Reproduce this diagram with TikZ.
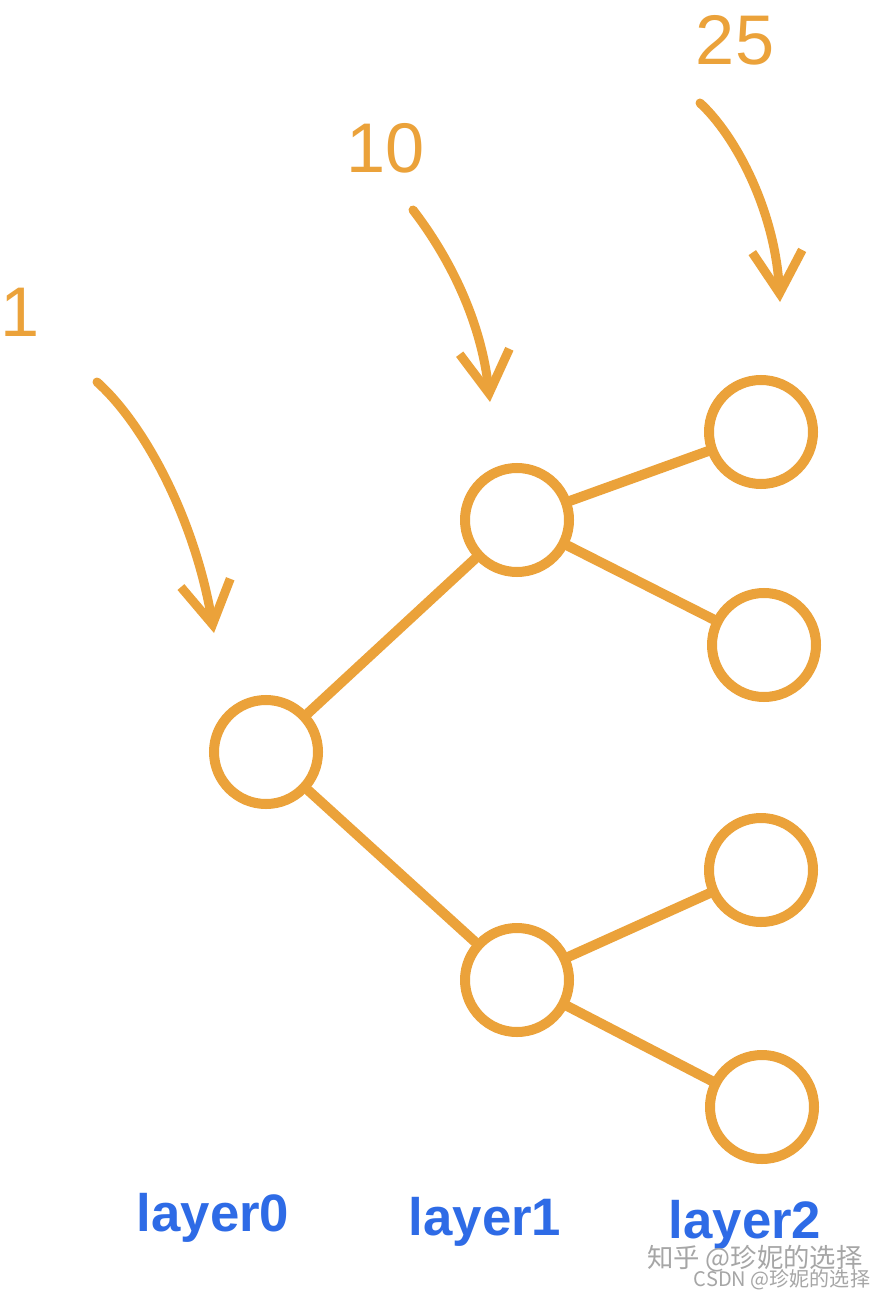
\documentclass[tikz,border=0pt]{standalone}
\usepackage{fontspec}
\setmainfont{Liberation Sans}
\newfontfamily\cjk{Noto Sans CJK SC}
\usepackage{xcolor}
\usepackage{tikz}
\usetikzlibrary{positioning}
\usetikzlibrary{arrows.meta}
\definecolor{treeorange}{HTML}{EBA23A}
\definecolor{layerblue}{HTML}{2E6BE6}

\begin{document}
\begin{tikzpicture}[>={Straight Barb[length=4.2mm,width=5mm]},line cap=round,on grid,
  leaf/.style={draw=treeorange,circle,line width=1mm,minimum size=1.04cm,inner sep=0pt},
  branch/.style={draw=treeorange,line width=1mm},
  pointer/.style={->,draw=treeorange,line width=0.9mm},
  count/.style={text=treeorange,font=\fontsize{20}{24}\selectfont},
  layer/.style={text=layerblue,font=\fontsize{15}{18}\selectfont\bfseries},
  wmark/.style={text=gray!70,inner sep=0pt}]
  \fill[white] (0,0) rectangle (8.82,-12.97);
  \useasboundingbox (0,0) rectangle (8.82,-12.97);

  % the tree
  \node[leaf] (root) at (2.66,-7.52) {};
  \node[leaf] (a) [above right=2.32cm and 2.51cm of root] {};
  \node[leaf] (b) [below right=2.28cm and 2.51cm of root] {};
  \node[leaf] (a1) [above right=0.88cm and 2.44cm of a] {};
  \node[leaf] (a2) [below right=1.25cm and 2.47cm of a] {};
  \node[leaf] (b1) [above right=1.10cm and 2.44cm of b] {};
  \node[leaf] (b2) [below right=1.27cm and 2.45cm of b] {};
  \draw[branch] (root) -- (a);
  \draw[branch] (root) -- (b);
  \draw[branch] (a) -- (a1);
  \draw[branch] (a) -- (a2);
  \draw[branch] (b) -- (b1);
  \draw[branch] (b) -- (b2);

	% counts per layer
  \node[count] (n0) at (0.20,-3.12) {1};
  \node[count] (n1) at (3.86,-1.48) {10};
  \node[count] (n2) at (7.35,-0.40) {25};
  \coordinate (s0) at (0.97,-3.82);
  \coordinate (e0) at (2.14,-6.33);
  \coordinate (s1) at (4.13,-2.10);
  \coordinate (e1) at (4.90,-4.02);
  \coordinate (s2) at (7.00,-1.03);
  \coordinate (e2) at (7.80,-3.02);
  \draw[pointer] (s0) .. controls (1.45,-4.25) and (1.95,-5.20) .. (e0);
  \draw[pointer] (s1) .. controls (4.40,-2.45) and (4.80,-3.10) .. (e1);
  \draw[pointer] (s2) .. controls (7.35,-1.35) and (7.75,-2.10) .. (e2);

  % Draw layer names
  \node[layer] (l0) at (2.13,-12.18) {layer0};
  \node[layer] (l1) at (4.85,-12.22) {layer1};
  \node[layer] (l2) at (7.45,-12.25) {layer2};
  \node[wmark,font=\cjk\fontsize{7.5}{9}\selectfont] (zh) at (7.55,-12.59) {知乎 @珍妮的选择};
  \node[wmark,font=\cjk\fontsize{5.7}{7}\selectfont] (csdn) at (7.82,-12.80) {CSDN @珍妮的选择};
\end{tikzpicture}
\end{document}
